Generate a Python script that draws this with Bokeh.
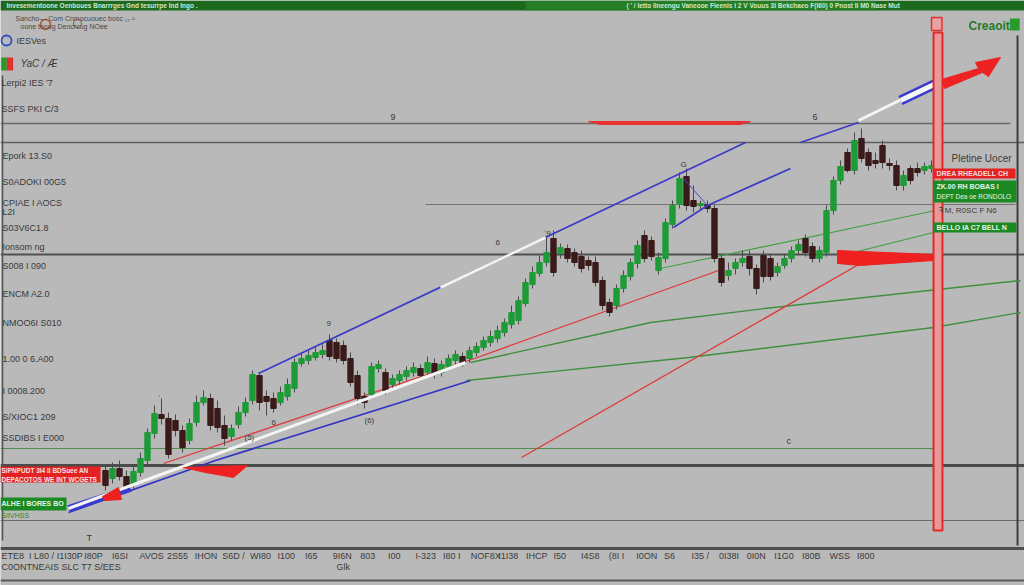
from bokeh.plotting import figure
from bokeh.models import Range1d, Label, ColumnDataSource
from bokeh.embed import file_html
from bokeh.resources import INLINE

# ---------------- data ----------------
opens = [107, 99, 109, 101, 93, 105, 117, 144, 163, 159, 157, 147, 137, 155, 175, 179, 169, 152, 141, 153,
         165, 177, 202, 181, 179, 175, 181, 189, 214, 217, 220, 223, 237, 235, 232, 219, 202, 181, 183, 209,
         205, 193, 197, 201, 205, 209, 205, 214, 205, 211, 217, 221, 219, 225, 230, 235, 239, 245, 253, 257,
         274, 293, 304, 315, 339, 324, 329, 325, 321, 317, 315, 297, 275, 272, 289, 301, 314, 342, 337, 307,
         319, 353, 373, 401, 377, 372, 373, 369, 319, 302, 309, 315, 321, 309, 322, 319, 305, 312, 319, 327,
         339, 331, 319, 325, 367, 397, 425, 407, 439, 425, 417, 432, 414, 412, 392, 409, 409, 407, 409]
closes = [92, 109, 101, 91, 106, 119, 145, 164, 159, 123, 147, 130, 154, 175, 180, 152, 150, 139, 149, 165,
          175, 203, 175, 176, 169, 185, 193, 215, 219, 222, 225, 227, 221, 219, 217, 195, 179, 175, 211, 213,
          187, 199, 203, 207, 210, 202, 215, 203, 213, 219, 223, 215, 227, 231, 237, 241, 247, 255, 265, 277,
          295, 305, 315, 325, 305, 330, 319, 315, 309, 312, 295, 272, 265, 289, 302, 315, 332, 319, 321, 320,
          355, 372, 399, 372, 371, 374, 369, 319, 295, 307, 315, 319, 309, 289, 301, 301, 311, 319, 327, 333,
          325, 319, 327, 367, 397, 411, 407, 437, 419, 412, 414, 415, 412, 392, 402, 397, 405, 411, 412]
highs = [112, 115, 117, 107, 111, 125, 149, 172, 179, 165, 163, 152, 159, 182, 187, 184, 177, 162, 153, 171,
         180, 207, 205, 187, 185, 191, 199, 219, 225, 227, 231, 233, 243, 239, 237, 225, 207, 185, 215, 217,
         209, 203, 207, 211, 215, 213, 221, 219, 217, 223, 227, 225, 231, 235, 241, 247, 252, 259, 272, 281,
         299, 311, 322, 341, 347, 334, 333, 329, 327, 321, 321, 301, 279, 293, 307, 319, 337, 347, 341, 325,
         359, 377, 405, 409, 392, 377, 377, 373, 323, 315, 319, 327, 327, 313, 327, 323, 315, 323, 331, 337,
         343, 335, 331, 372, 401, 417, 429, 445, 449, 429, 425, 437, 419, 417, 407, 412, 415, 415, 417]
lows = [87, 94, 97, 87, 89, 101, 113, 139, 153, 119, 141, 125, 133, 151, 172, 147, 145, 132, 137, 149,
        161, 173, 167, 162, 165, 172, 177, 185, 211, 213, 217, 219, 217, 215, 213, 191, 173, 169, 179, 205,
        183, 189, 193, 197, 201, 197, 201, 199, 201, 207, 213, 211, 215, 221, 227, 231, 235, 241, 249, 253,
        271, 289, 301, 311, 301, 319, 315, 311, 305, 307, 291, 267, 261, 268, 285, 297, 309, 315, 317, 303,
        315, 349, 369, 367, 365, 367, 365, 315, 291, 297, 303, 311, 302, 283, 295, 297, 301, 309, 315, 323,
        321, 315, 315, 321, 363, 393, 405, 403, 415, 407, 409, 409, 407, 387, 387, 393, 401, 403, 405]

# drawn trend lines (bar index, price)
upper_channel_x = [21.86, 91.43]
upper_channel_y = [204, 435]
upper_white_x = [47.86, 62.86]
upper_white_y = [290, 340]
upper_channel2_x = [99.29, 107.57]
upper_channel2_y = [435, 455]
arrow_white_x = [107.57, 114.29]
arrow_white_y = [457, 480]
arrow_box_x = [113.57, 119.57]
arrow_box_y = [477, 497]
arrow_head_x = [119.43, 124.71, 124.29, 127.86, 126.14, 125.29, 119.86]
arrow_head_y = [498, 509, 515, 520, 501, 505, 489]
channel2_x = [81.14, 86.0, 97.86]
channel2_y = [350, 372, 409]
short_blue_x = [82.57, 86.0]
short_blue_y = [399, 372]
lower_white_x = [-5.29, 51.43]
lower_white_y = [69, 215]
lower_blue_x = [-5.29, 15.71, 52.14]
lower_blue_y = [65, 117, 197]
red1_x = [8.29, 52.71, 87.57]
red1_y = [114, 219, 307]
red2_x = [59.43, 107.86]
red2_y = [120, 314]
red_wedge_x = [104.57, 118.29, 118.29, 107.86, 104.57]
red_wedge_y = [327, 323, 317, 312, 314]
red_low_x = [11.14, 20.29, 18.29, 14.29]
red_low_y = [110, 112, 100, 105]
red_small_x = [-0.43, 1.86, 2.29, -0.14]
red_small_y = [81, 90, 78, 77]
red_top_x = [69.0, 92.14, 90.71, 70.71]
red_top_y = [456, 456, 453, 453]
greenA_x = [52.14, 69.57, 77.86, 94.14, 130.71]
greenA_y = [215, 242, 255, 269, 297]
greenB_x = [51.57, 83.29, 118.29, 130.71]
greenB_y = [197, 220, 250, 265]
greenC_x = [78.57, 118.57]
greenC_y = [308, 367]
greenD_x = [105.71, 118.29]
greenD_y = [323, 345]

left_labels = ["Epork 13.S0", "S0ADOKI 00G5", "CPIAE I AOCS", "L2I", "S03V6C1.8", "Ionsom    ng",
               "S008 I 090", "ENCM A2.0", "NMOO6I S010", "1.00 0 6.A00", "I 0008.200", "S/XIOC1 209",
               "SSDIBS I E000"]
x_labels = ["ETE8", "I L80 /", "I1I30P", "I80P", "I6SI", "AVOS", "2S55", "IHON", "S6D /", "WI80", "I100",
            "I65", "9I6N", "803", "I00", "I-323", "I80 I", "NOF8X", "I1I38", "IHCP", "I50", "I4S8", "(8I I",
            "I0ON", "S6", "I35 /", "0I38I", "0I0N", "I1G0", "I80B", "WSS", "I800"]

# ---------------- figure ----------------
W, H = 1024, 585
BG = "#b9b9b9"
X0, X1 = -15.0, 131.286
p = figure(width=W, height=H, output_backend="svg", toolbar_location=None,
           x_range=Range1d(X0, X1), y_range=Range1d(-8, 577),
           min_border=0, background_fill_color=BG, border_fill_color=BG)
p.axis.visible = False
p.grid.visible = False
p.outline_line_color = None


def sx(X):
    return X


def sy(Y):
    return 585 - Y


# banner
p.quad(left=[X0], right=[X1], top=[577], bottom=[567], fill_color="#1d6a1f", line_color=None)
p.quad(left=[60], right=[110], top=[577], bottom=[567], fill_color="#2c8a2c", line_color=None, fill_alpha=0.6)

# horizontal rules
for yv, a, b, col, w in [(454, X0, 129.29, "#6a6a6a", 1.5), (435, X0, X1, "#5c5c5c", 1.5),
                         (373, 45.71, 130.0, "#727272", 1), (323, X0, X1, "#505050", 2),
                         (129, X0, 119.29, "#4f8d4f", 1.2), (112, X0, X1, "#4b4b4b", 3),
                         (57, X0, X1, "#6c6c6c", 1), (29, X0, X1, "#4e4e4e", 3),
                         (-3, X0, X1, "#5a5a5a", 2)]:
    p.segment(x0=[a], y0=[yv], x1=[b], y1=[yv], line_color=col, line_width=w)

# vertical lines
p.segment(x0=[130.29], y0=[542], x1=[130.29], y1=[32], line_color="#3d3d3d", line_width=2)
p.segment(x0=[-14.71], y0=[502], x1=[-14.71], y1=[37], line_color="#555555", line_width=1.5)

# trend lines behind candles
p.line(greenA_x, greenA_y, line_color="#3e8f3e", line_width=1.3)
p.line(greenB_x, greenB_y, line_color="#3e8f3e", line_width=1.3)
p.line(greenC_x, greenC_y, line_color="#43a043", line_width=1.2)
p.line(greenD_x, greenD_y, line_color="#43a043", line_width=1.2)
p.line(red1_x, red1_y, line_color="#e03a3a", line_width=1.3)
p.line(red2_x, red2_y, line_color="#e03a3a", line_width=1.4)

# candles
n = len(opens)
idx = list(range(n))
up = [c >= o for o, c in zip(opens, closes)]
src = ColumnDataSource(dict(
    x=idx, o=opens, c=closes, h=highs, l=lows,
    top=[max(o, c) for o, c in zip(opens, closes)],
    bot=[min(o, c) for o, c in zip(opens, closes)],
    col=["#1e9b37" if u else "#3b1a1a" for u in up]))
p.segment(x0="x", y0="h", x1="x", y1="l", source=src, line_color="#4a4a4a", line_width=1)
p.vbar(x="x", top="top", bottom="bot", width=0.76, source=src, fill_color="col", line_color="col")

# blue / white drawn lines
p.line(upper_channel_x, upper_channel_y, line_color="#3c3cc8", line_width=1.8)
p.line(upper_white_x, upper_white_y, line_color="#f4f4f4", line_width=2.5)
p.line(upper_channel2_x, upper_channel2_y, line_color="#3c3cc8", line_width=1.8)
p.line(arrow_white_x, arrow_white_y, line_color="#f4f4f4", line_width=3)
p.line(arrow_box_x, arrow_box_y, line_color="#3a3ad0", line_width=10)
p.line(arrow_box_x, arrow_box_y, line_color="#f6f6f6", line_width=5)
p.patch(arrow_head_x, arrow_head_y, fill_color="#ee2222", line_color="#ee2222")
p.line(channel2_x, channel2_y, line_color="#3c3cc8", line_width=1.8)
p.line(short_blue_x, short_blue_y, line_color="#4a4ad0", line_width=1)
p.line(lower_blue_x, lower_blue_y, line_color="#3434c4", line_width=1.8)
p.line(lower_white_x[:1] + [3.57], lower_white_y[:1] + [89], line_color="#3a3ad0", line_width=7)
p.line(lower_white_x, lower_white_y, line_color="#f4f4f4", line_width=3)

# red shapes
p.patch(red_wedge_x, red_wedge_y, fill_color="#ee2020", line_color="#ee2020")
p.patch(red_low_x, red_low_y, fill_color="#ee2020", line_color="#ee2020")
p.patch(red_small_x, red_small_y, fill_color="#ee2020", line_color="#ee2020")
p.patch(red_top_x, red_top_y, fill_color="#e83030", line_color="#e83030")

# red vertical band
p.quad(left=[118.29], right=[119.57], top=[545], bottom=[47], fill_color="#e79898",
       line_color="#e22a2a", line_width=2)

# boxes (right)
p.quad(left=[118.29], right=[130.0], top=[409], bottom=[399], fill_color="#e52222", line_color=None)
p.quad(left=[118.29], right=[130.14], top=[397], bottom=[375], fill_color="#1b8a22", line_color=None)
p.quad(left=[118.29], right=[130.14], top=[355], bottom=[345], fill_color="#1b8a22", line_color=None)
# boxes (left)
p.quad(left=[X0], right=[-0.71], top=[111], bottom=[95], fill_color="#e52222", line_color=None)
p.quad(left=[X0], right=[-5.57], top=[80], bottom=[67], fill_color="#1b8a22", line_color=None)

# icons
p.scatter([-14.14], [537], marker="circle", size=10, fill_color=None, line_color="#3050c0", line_width=1.8)
p.scatter([-8.57], [553], marker="circle", size=10, fill_color=None, line_color="#b0582e", line_width=1.6)
p.scatter([-4.0], [554], marker="circle", size=8, fill_color=None, line_color="#707070", line_width=1.2)
p.quad(left=[-14.9], right=[-14.1], top=[520], bottom=[507], fill_color="#2a9a2a", line_color=None)
p.quad(left=[-14.1], right=[-13.2], top=[520], bottom=[507], fill_color="#e03030", line_color=None)
p.quad(left=[118.0], right=[119.5], top=[560], bottom=[547], fill_color="#e8a0a0", line_color="#e03030", line_width=1.5)
p.quad(left=[129.2], right=[130.6], top=[559], bottom=[547], fill_color="#2a9a2a", line_color=None)

# ---------------- texts ----------------
FONT = "Liberation Sans Narrow, Liberation Sans"


def lab(text, X, Y, size=9, color="#3a3a3a", align="left", style="normal", font=FONT):
    p.add_layout(Label(x=sx(X), y=sy(Y), x_units="screen", y_units="screen", text=text,
                       text_font=font, text_font_size=f"{size}px", text_color=color,
                       text_align=align, text_baseline="middle", text_font_style=style))


lab("Invesementoone   Oenboues   Bnarrrges   Gnd tesurrpe   Ind Ingo .", 6, 5, 6.5, "#cde8cd", style="bold")
lab("( ' /  Ietto  Iineengu  Vaneooe  Fieenis  I 2 V Vouus   3I  Bekchaeo  F(I60)   0 Pnost  II M0  Nase Mut",
    626, 5, 6.5, "#cde8cd", style="bold")
lab("Sancho\u2014  Com      Cnmocuouec bosc  \u2081\u2087 \u2248", 15, 18, 7, "#4a4a4a")
lab("oone         tooog       Dencrcug  NOee", 20, 26, 7, "#4a4a4a")
lab("IESVes", 16, 40, 9, "#3a3a3a")
lab("YaC / \u00c6", 20, 63, 10, "#3a3a3a", style="italic")
lab("Lerpi2 IES '7", 1, 82, 9)
lab("SSFS PKI C/3", 1, 108, 9)
left_Y = [155, 181, 202, 211, 227, 246, 265, 293, 322, 358, 390, 416, 437]
for t, Yv in zip(left_labels, left_Y):
    lab(t, 2, Yv, 9)

lab("9", 390, 116, 9)
lab("6", 812, 116, 9)
lab("G", 680, 164, 8)
lab("\u02bb9", 544, 233, 8)
lab("9", 326, 323, 8)
lab("6", 495, 242, 8)
lab("\u02bb", 158, 398, 8)
lab("(5)", 244, 437, 8)
lab("6", 271, 422, 8)
lab("(6)", 364, 420, 8)
lab("c", 786, 440, 9)
lab("T", 86, 537, 9)

for i, t in enumerate(x_labels):
    lab(t, 1 + i * 27.6, 555, 9, "#3a3a3a")
lab("C0ONTNEAIS   SLC   T7   S/EES", 1, 566, 9)
lab("Glk", 336, 566, 9)

lab("Creaoit", 968, 25, 12, "#1f7a2c", style="bold", font="Liberation Sans")
lab("Pletine Uocer", 951, 158, 10, "#3a3a3a")
lab("DREA RHEADELL CH", 936, 173, 7, "#f3dede", style="bold")
lab("ZK.00 RH BOBAS I", 936, 186, 7, "#e6f3e6", style="bold")
lab("DEPT Dea oe RONDOLO", 936, 196, 6.5, "#e6f3e6")
lab("\ua7fb   M, R0SC F N6", 938, 210, 8, "#3a3a3a")
lab("BELLO IA C7 BELL N", 936, 227, 7, "#e6f3e6", style="bold")
lab("SIPNPUDT 3I4 II BDSuee AN", 1, 470, 6.5, "#f6e0e0", style="bold")
lab("DEPACOTOS WE INT WCGETS", 1, 479, 6.5, "#f6e0e0", style="bold")
lab("ALHE I BORES BO", 1, 503, 7, "#e6f3e6", style="bold")
lab("S/IVHSS", 1, 515, 7, "#2a8a2a")

open("out.html", "w").write(file_html(p, INLINE))
